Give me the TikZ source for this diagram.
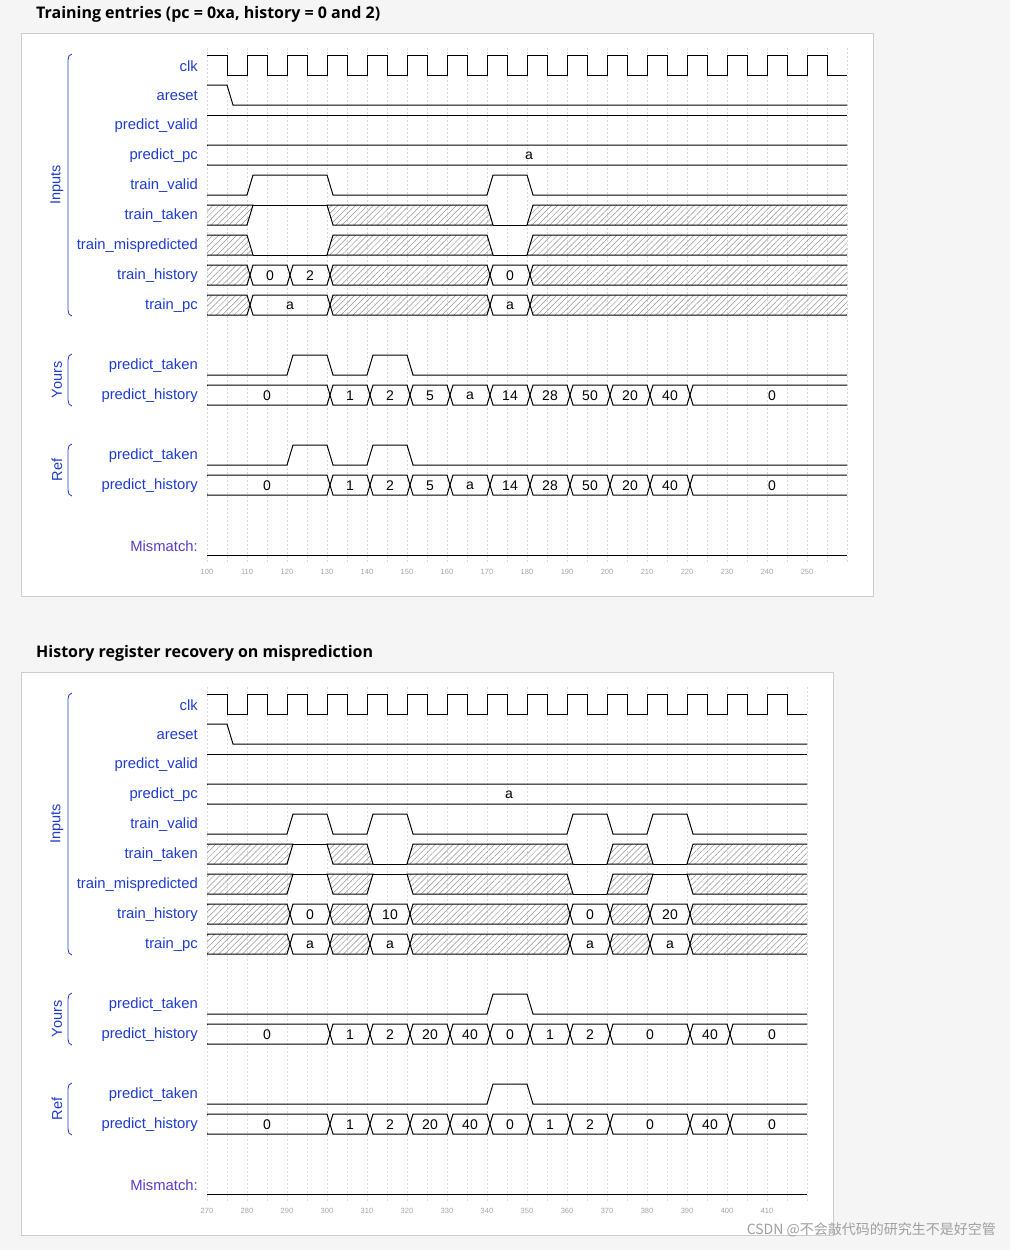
\documentclass[tikz,border=0pt]{standalone}
\usepackage{fontspec}
\setmainfont{Liberation Sans}
\newfontfamily\ttlfont{Open Sans}
\newfontfamily\cjkfont{Noto Sans CJK SC}
\usetikzlibrary{patterns.meta}
\definecolor{lblue}{RGB}{30,60,210}
\definecolor{mism}{RGB}{90,60,200}
\definecolor{pagebg}{RGB}{245,245,245}
\definecolor{boxline}{RGB}{205,205,205}
\tikzset{
  wv/.style={line width=1pt,black},
  hatchx/.style={line width=1pt,draw=black,pattern={Lines[angle=45,distance=4.2pt,line width=0.5pt]},pattern color=gray!85},
  val/.style={font=\fontsize{14}{15}\selectfont,inner sep=0pt},
  sig/.style={font=\fontsize{14.8}{16}\selectfont,text=lblue,anchor=east,inner sep=0pt},
  grp/.style={font=\fontsize{14.5}{15}\selectfont,text=lblue,rotate=90,inner sep=0pt},
  gridl/.style={gray!30,line width=0.6pt,dash pattern=on 2pt off 2pt},
  tick/.style={font=\fontsize{7.5}{8}\selectfont,text=gray!70,inner sep=0pt},
  brace/.style={lblue,line width=0.8pt},
  ttl/.style={font=\ttlfont\bfseries\fontsize{16}{18}\selectfont,anchor=west,inner sep=0pt},
}
\newcommand\busv[4]{%
  \draw[wv] (#2+3,#1) -- (#2+6,#1-10) -- (#3,#1-10) -- (#3+3,#1) -- (#3,#1+10) -- (#2+6,#1+10) -- cycle;
  \node[val] at ({(#2+#3)/2+3},#1+1) {#4};}
\newcommand\busx[3]{%
  \draw[hatchx] (#2+3,#1) -- (#2+6,#1-10) -- (#3,#1-10) -- (#3+3,#1) -- (#3,#1+10) -- (#2+6,#1+10) -- cycle;}
\newcommand\hq[5]{%
  \draw[hatchx] (#2,#1-10) -- (#3,#1-10) -- (#4,#1+10) -- (#5,#1+10) -- cycle;}
\newcommand\brk[3]{% x top bottom
  \draw[brace] (72,#2) to[out=180,in=90] (68,#2+6) -- (68,#3-6) to[out=-90,in=180] (72,#3);}
\begin{document}
\begin{tikzpicture}[x=1pt,y=-1pt]
\fill[pagebg] (0,0) rectangle (1010,1250);
\useasboundingbox (0,0) rectangle (1010,1250);
% ---------- Panel 1 ----------
\node[ttl] (t1) at (36,14) {Training entries (pc = 0xa, history = 0 and 2)};
\draw[boxline,fill=white] (21,33) rectangle (873,596);
\foreach \x in {207,227,...,847} \draw[gridl] (\x,48) -- (\x,562);
\foreach \i in {0,...,15} {\pgfmathtruncatemacro\tv{100+10*\i}\node[tick] at ({207+40*\i},572) {\tv};}
\brk{}{54}{316}\node[grp] (g1) at (57,185) {Inputs};
\brk{}{354}{406}\node[grp] (g2) at (57,380) {Yours};
\brk{}{444}{496}\node[grp] (g3) at (57,470) {Ref};
\foreach \y/\n in {66/clk,96/areset,126/predict\_valid,156/predict\_pc,186/train\_valid,216/train\_taken,246/train\_mispredicted,276/train\_history,306/train\_pc,366/predict\_taken,396/predict\_history,456/predict\_taken,486/predict\_history}
  \node[sig] at (198,\y) {\n};
\node[sig,text=mism] (mm1) at (198,546) {Mismatch:};
\begin{scope}
\clip (207,40) rectangle (847,600);
\draw[wv] (207,55) \foreach \k in {0,...,15} { -- ({207+40*\k},55) -- ({227+40*\k},55) -- ({227+40*\k},75) -- ({247+40*\k},75) };
\draw[wv] (207,85) -- (227,85) -- (233,105) -- (847,105);
\draw[wv] (207,115) -- (847,115);
\busv{155}{201}{851}{a}
\draw[wv] (207,195)--(247,195)--(253,175)--(327,175)--(333,195)--(487,195)--(493,175)--(527,175)--(533,195)--(847,195);
\hq{215}{203}{253}{247}{203}
\draw[wv] (253,205)--(327,205);
\hq{215}{327}{487}{493}{333}
\draw[wv] (493,225)--(527,225);
\hq{215}{533}{851}{851}{527}
\hq{245}{203}{247}{253}{203}
\draw[wv] (253,255)--(327,255);
\hq{245}{333}{487}{493}{327}
\draw[wv] (493,255)--(527,255);
\hq{245}{533}{851}{851}{527}
\busx{275}{201}{247}\busv{275}{247}{287}{0}\busv{275}{287}{327}{2}\busx{275}{327}{487}\busv{275}{487}{527}{0}\busx{275}{527}{851}
\busx{305}{201}{247}\busv{305}{247}{327}{a}\busx{305}{327}{487}\busv{305}{487}{527}{a}\busx{305}{527}{851}
\foreach \c in {365,455} {
 \draw[wv] (207,\c+10)--(287,\c+10)--(293,\c-10)--(327,\c-10)--(333,\c+10)--(367,\c+10)--(373,\c-10)--(407,\c-10)--(413,\c+10)--(847,\c+10);
 \foreach \a/\b/\v in {201/327/0,327/367/1,367/407/2,407/447/5,447/487/a,487/527/14,527/567/28,567/607/50,607/647/20,647/687/40,687/851/0}
   {\busv{\c+30}{\a}{\b}{\v}}
}
\draw[wv] (207,555) -- (847,555);
\end{scope}
% ---------- Panel 2 ----------
\node[ttl] (t2) at (36,653) {History register recovery on misprediction};
\draw[boxline,fill=white] (21,672) rectangle (833,1235);
\foreach \x in {207,227,...,807} \draw[gridl] (\x,687) -- (\x,1201);
\foreach \i in {0,...,14} {\pgfmathtruncatemacro\tv{270+10*\i}\node[tick] at ({207+40*\i},1211) {\tv};}
\brk{}{693}{955}\node[grp] (g4) at (57,824) {Inputs};
\brk{}{993}{1045}\node[grp] (g5) at (57,1019) {Yours};
\brk{}{1083}{1135}\node[grp] (g6) at (57,1109) {Ref};
\foreach \y/\n in {705/clk,735/areset,765/predict\_valid,795/predict\_pc,825/train\_valid,855/train\_taken,885/train\_mispredicted,915/train\_history,945/train\_pc,1005/predict\_taken,1035/predict\_history,1095/predict\_taken,1125/predict\_history}
  \node[sig] at (198,\y) {\n};
\node[sig,text=mism] (mm2) at (198,1185) {Mismatch:};
\begin{scope}
\clip (207,680) rectangle (807,1240);
\draw[wv] (207,694) \foreach \k in {0,...,14} { -- ({207+40*\k},694) -- ({227+40*\k},694) -- ({227+40*\k},714) -- ({247+40*\k},714) };
\draw[wv] (207,724) -- (227,724) -- (233,744) -- (807,744);
\draw[wv] (207,754) -- (807,754);
\busv{794}{201}{811}{a}
\draw[wv] (207,834)--(287,834)--(293,814)--(327,814)--(333,834)--(367,834)--(373,814)--(407,814)--(413,834)--(567,834)--(573,814)--(607,814)--(613,834)--(647,834)--(653,814)--(687,814)--(693,834)--(807,834);
% train_taken
\hq{854}{203}{293}{287}{203}
\draw[wv] (293,844)--(327,844);
\hq{854}{327}{367}{373}{333}
\draw[wv] (373,864)--(407,864);
\hq{854}{413}{567}{573}{407}
\draw[wv] (573,864)--(607,864);
\hq{854}{613}{647}{653}{607}
\draw[wv] (653,864)--(687,864);
\hq{854}{693}{811}{811}{687}
% train_mispredicted
\hq{884}{203}{293}{287}{203}
\draw[wv] (293,874)--(327,874);
\hq{884}{327}{373}{367}{333}
\draw[wv] (373,874)--(407,874);
\hq{884}{407}{567}{573}{413}
\draw[wv] (573,894)--(607,894);
\hq{884}{613}{653}{647}{607}
\draw[wv] (653,874)--(687,874);
\hq{884}{687}{811}{811}{693}
\busx{914}{201}{287}\busv{914}{287}{327}{0}\busx{914}{327}{367}\busv{914}{367}{407}{10}\busx{914}{407}{567}\busv{914}{567}{607}{0}\busx{914}{607}{647}\busv{914}{647}{687}{20}\busx{914}{687}{811}
\busx{944}{201}{287}\busv{944}{287}{327}{a}\busx{944}{327}{367}\busv{944}{367}{407}{a}\busx{944}{407}{567}\busv{944}{567}{607}{a}\busx{944}{607}{647}\busv{944}{647}{687}{a}\busx{944}{687}{811}
\foreach \c in {1004,1094} {
 \draw[wv] (207,\c+10)--(487,\c+10)--(493,\c-10)--(527,\c-10)--(533,\c+10)--(807,\c+10);
 \foreach \a/\b/\v in {201/327/0,327/367/1,367/407/2,407/447/20,447/487/40,487/527/0,527/567/1,567/607/2,607/687/0,687/727/40,727/811/0}
   {\busv{\c+30}{\a}{\b}{\v}}
}
\draw[wv] (207,1194) -- (807,1194);
\end{scope}
\node[anchor=east,inner sep=0pt,text=gray!75,font=\cjkfont\fontsize{14}{15}\selectfont] (wm) at (996,1230) {CSDN @不会敲代码的研究生不是好空管};
\end{tikzpicture}
\end{document}
